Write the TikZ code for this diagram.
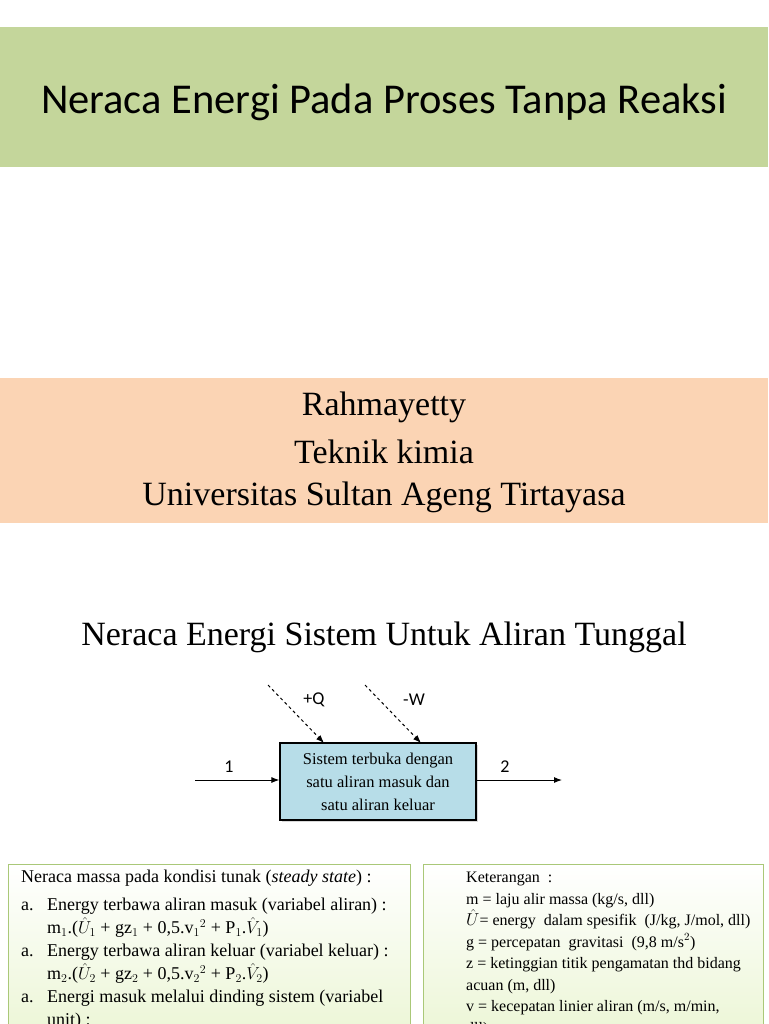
\documentclass[tikz,border=0pt]{standalone}
\usepackage{fontspec}
\setmainfont{Liberation Serif}
\newfontfamily\carl{Carlito}
\usetikzlibrary{arrows.meta,shadows}
\definecolor{tgreen}{RGB}{196,214,155}
\definecolor{torange}{RGB}{251,212,180}
\definecolor{boxblue}{RGB}{183,221,232}
\definecolor{pgreen}{RGB}{236,246,214}
\definecolor{pborder}{RGB}{170,200,120}
\newcommand\lblfont{\carl\fontsize{18}{21}\selectfont}
\begin{document}
\begin{tikzpicture}[x=1pt,y=-1pt,
  flow/.style={-{Latex[length=8pt,width=6pt]},line width=1pt},
  dflow/.style={flow,dashed},
  panel/.style={draw=pborder,line width=1.2pt,top color=white,bottom color=pgreen,minimum height=170pt,inner sep=0pt}]
\useasboundingbox (0,0) rectangle (768,1024);
\begin{scope}
\clip (0,0) rectangle (768,1024);
\fill[white] (0,0) rectangle (768,1024);
\fill[tgreen] (0,27) rectangle (768,167);
\node (title) at (384,102) {\carl\fontsize{42.5}{50}\selectfont Neraca Energi Pada Proses Tanpa Reaksi};
\fill[torange] (0,378) rectangle (768,523);
\node (a1) at (384,407) {\fontsize{34}{40}\selectfont Rahmayetty};
\node (a2) at (384,452) {\fontsize{34}{40}\selectfont Teknik kimia};
\node (a3) at (384,497) {\fontsize{34}{40}\selectfont Universitas Sultan Ageng Tirtayasa};
\node (sub) at (384,637) {\fontsize{34}{40}\selectfont Neraca Energi Sistem Untuk Aliran Tunggal};
\node[draw,line width=1.2pt,fill=boxblue,drop shadow={shadow xshift=2pt,shadow yshift=-2pt,fill=gray!60},minimum width=196pt,minimum height=77pt,align=center,font=\fontsize{16.5}{23}\selectfont] (sys) at (378,781.5) {Sistem terbuka dengan\\satu aliran masuk dan\\satu aliran keluar};
\coordinate (in) at (195,780);
\coordinate (out) at (562,780);
\coordinate (q0) at (268,685);
\coordinate (w0) at (365,685);
\draw[flow] (in) -- (sys.west|-in);
\draw[flow] (sys.east|-out) -- (out);
\draw[dflow] (q0) -- (324,743);
\draw[dflow] (w0) -- (421,743);
\node (l1) at (229,767) {\lblfont 1};
\node (l2) at (505,767) {\lblfont 2};
\node (lq) at (314,700) {\lblfont +Q};
\node (lw) at (414,700) {\lblfont -W};
\node[panel,minimum width=402pt,anchor=north west] (pl) at (8,864) {};
\node[panel,minimum width=340pt,anchor=north west] (pr) at (423,864) {};
\node[anchor=north west,align=left,font=\fontsize{18}{23}\selectfont,inner sep=0pt] (tl) at (21,870) {Neraca massa pada kondisi tunak (\textit{steady state}) :\\[5pt]
a.\ \ \ Energy terbawa aliran masuk (variabel aliran) :\\
\hspace*{26pt}m$_1$.($\hat U_1$ + gz$_1$ + 0,5.v$_1{}^2$ + P$_1$.$\hat V_1$)\\
a.\ \ \ Energy terbawa aliran keluar (variabel keluar) :\\
\hspace*{26pt}m$_2$.($\hat U_2$ + gz$_2$ + 0,5.v$_2{}^2$ + P$_2$.$\hat V_2$)\\
a.\ \ \ Energi masuk melalui dinding sistem (variabel\\
\hspace*{26pt}unit) :};
\node[anchor=north west,align=left,font=\fontsize{16}{21.5}\selectfont,inner sep=0pt] (tr) at (466,872) {Keterangan \ :\\
m = laju alir massa (kg/s, dll)\\
$\hat U$= energy \ dalam spesifik \ (J/kg, J/mol, dll)\\
g = percepatan \ gravitasi \ (9,8 m/s$^2$)\\
z = ketinggian titik pengamatan thd bidang\\
acuan (m, dll)\\
v = kecepatan linier aliran (m/s, m/min,\\
dll)};
\end{scope}
\end{tikzpicture}
\end{document}
